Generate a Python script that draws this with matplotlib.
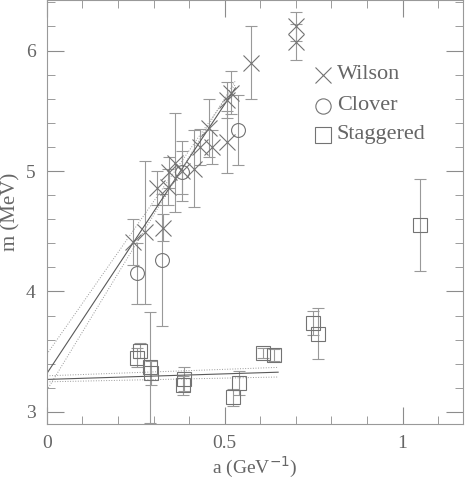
import matplotlib
matplotlib.use("Agg")
import matplotlib.pyplot as plt
from matplotlib.ticker import MultipleLocator

plt.rcParams['font.family'] = ['Liberation Serif', 'DejaVu Serif']

# Wilson
w_a = [0.242, 0.276, 0.31, 0.327, 0.341, 0.344, 0.36, 0.38, 0.414, 0.43, 0.456, 0.465, 0.507, 0.507, 0.518, 0.575, 0.70, 0.70]
w_m = [4.41, 4.49, 4.86, 4.53, 4.87, 4.99, 5.07, 5.00, 5.02, 5.20, 5.36, 5.20, 5.24, 5.59, 5.65, 5.90, 6.07, 6.20]
w_e = [0.19, 0.59, 0.14, 0.11, 0.15, 0.13, 0.41, 0.25, 0.32, 0.15, 0.24, 0.14, 0.26, 0.15, 0.18, 0.30, 0.15, 0.12]
# Clover
c_a = [0.253, 0.324, 0.38, 0.538]
c_m = [4.15, 4.26, 4.99, 5.34]
c_e = [0.25, 0.55, 0.18, 0.29]
# Staggered
s_a = [0.253, 0.262, 0.29, 0.293, 0.386, 0.383, 0.524, 0.541, 0.608, 0.637, 0.749, 0.763, 1.05]
s_m = [3.45, 3.51, 3.37, 3.32, 3.27, 3.22, 3.12, 3.24, 3.49, 3.47, 3.74, 3.65, 4.55]
s_e = [0.08, 0.06, 0.46, 0.10, 0.10, 0.08, 0.07, 0.10, 0.04, 0.05, 0.10, 0.21, 0.38]

# fit lines (endpoints)
wfit_a = [0.0, 0.53]
wfit_m = [3.32, 5.69]
wfit_hi = [3.48, 5.72]
wfit_lo = [3.18, 5.75]
sfit_a = [0.0, 0.65]
sfit_m = [3.27, 3.33]
sfit_hi = [3.30, 3.37]
sfit_lo = [3.25, 3.29]

fig, ax = plt.subplots(figsize=(4.74, 4.84), dpi=100)
fig.subplots_adjust(left=0.099, right=0.977, bottom=0.124, top=1.0)
g = '0.45'
kw = dict(ls='none', color=g, ecolor='0.6', elinewidth=0.8, capsize=4, capthick=0.8, mfc='none', mew=0.8)
ax.errorbar(w_a, w_m, yerr=w_e, marker='x', ms=11, **kw)
ax.errorbar(c_a, c_m, yerr=c_e, marker='o', ms=10, **kw)
ax.errorbar(s_a, s_m, yerr=s_e, marker='s', ms=10, **kw)

ax.plot(wfit_a, wfit_m, color='0.35', lw=0.8)
ax.plot(wfit_a, wfit_hi, color='0.6', lw=0.7, ls=':')
ax.plot(wfit_a, wfit_lo, color='0.6', lw=0.7, ls=':')
ax.plot(sfit_a, sfit_m, color='0.35', lw=0.8)
ax.plot(sfit_a, sfit_hi, color='0.6', lw=0.7, ls=':')
ax.plot(sfit_a, sfit_lo, color='0.6', lw=0.7, ls=':')

# legend drawn as text + markers
for yy, mk, lab in [(5.80, 'x', 'Wilson'), (5.54, 'o', 'Clover'), (5.30, 's', 'Staggered')]:
    ax.plot([0.775], [yy], marker=mk, ms=11, mfc='none', color=g, mew=0.8)
    ax.text(0.815, yy, lab, fontsize=16, color='0.4', va='center')

ax.set_xlim(0, 1.17)
ax.set_ylim(2.9, 6.42)
ax.xaxis.set_minor_locator(MultipleLocator(0.1))
ax.yaxis.set_major_locator(MultipleLocator(1))
ax.yaxis.set_minor_locator(MultipleLocator(0.2))
ax.set_xticks([0, 0.5, 1], ['0', '0.5', '1'])
ax.tick_params(which='both', direction='in', top=True, right=True, colors='0.55', labelcolor='0.4', labelsize=14)
ax.tick_params(which='major', length=12, pad=8)
ax.tick_params(which='minor', length=6)
for s in ax.spines.values():
    s.set_color('0.6')
ax.set_xlabel('a (GeV$^{-1}$)', fontsize=14, color='0.4', labelpad=2)
ax.set_ylabel('m (MeV)', fontsize=15, color='0.4')
fig.savefig('out.png')
